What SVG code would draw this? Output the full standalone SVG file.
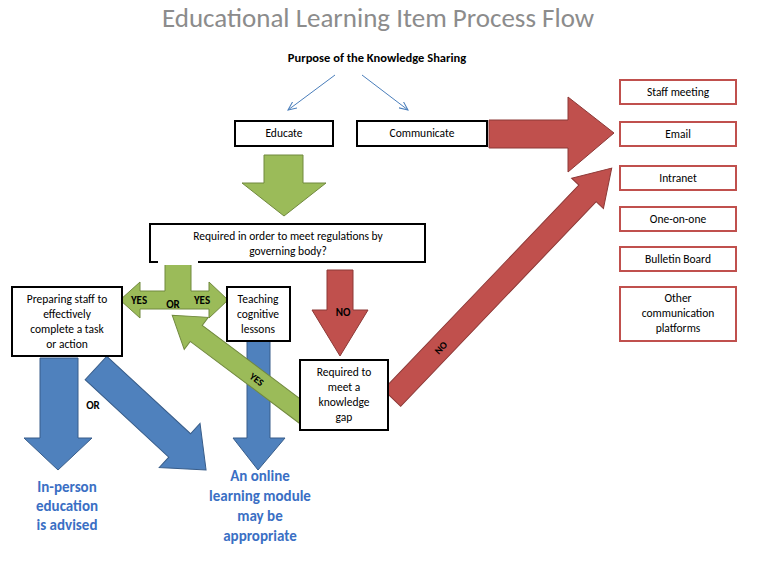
<svg xmlns="http://www.w3.org/2000/svg" width="768" height="576" viewBox="0 0 768 576">
<defs>
<marker id="ah" markerWidth="10" markerHeight="8" refX="9" refY="4" orient="auto" markerUnits="userSpaceOnUse"><path d="M0,0 L9,4 L0,8" fill="none" stroke="#4a7ebb" stroke-width="1"/></marker>
</defs>
<style>
text{font-family:Calibri,"Liberation Sans",Arial,sans-serif;}
.bx{fill:#fff;stroke:#000;stroke-width:2}
.rb{fill:#fff;stroke:#c0504d;stroke-width:2}
.t{font-size:11.5px;text-anchor:middle;fill:#000}
.g{fill:#9bbb59;stroke:#71893f;stroke-width:1}
.r{fill:#c0504d;stroke:#8c3836;stroke-width:1}
.b{fill:#4f81bd;stroke:#385d8a;stroke-width:1}
.lb{font-size:11px;font-weight:bold;text-anchor:middle;fill:#000}
.bl{font-size:15px;font-weight:bold;text-anchor:middle;fill:#3a6fc4}
</style>
<rect width="768" height="576" fill="#fff"/>
<text x="378" y="27" font-size="27" text-anchor="middle" fill="#8c8c8c">Educational Learning Item Process Flow</text>
<text x="377" y="62" font-size="12.5" font-weight="bold" text-anchor="middle">Purpose of the Knowledge Sharing</text>
<g id="connectors">
<line x1="335" y1="75" x2="288" y2="110" stroke="#4a7ebb" marker-end="url(#ah)"/>
<line x1="362" y1="75" x2="408" y2="110" stroke="#4a7ebb" marker-end="url(#ah)"/>
<polygon class="r" points="489,120 568,120 568,97 614,133 568,172 568,148 489,148"/>
<polygon class="g" points="264,155 303,155 303,183 326,183 284,216 242,183 264,183"/>
<polygon class="g" points="165,262 191,262 191,291 209,291 209,282 228,300 209,318 209,309 140,309 140,318 120,300 140,282 140,291 165,291"/>
<polygon class="r" points="327,270 353,270 353,310 368,310 340,356 312,310 327,310"/>
<g transform="translate(392,398) rotate(-46.3)"><polygon class="r" points="0,-12 283,-12 283,-22 318,0 283,22 283,12 0,12"/>
<text x="70" y="4" font-size="10" font-weight="bold" text-anchor="middle">NO</text></g>
<polygon class="b" points="40,358 78,358 78,438 92,438 58,470 24,438 40,438"/>
<g transform="translate(96,368) rotate(42.8)"><polygon class="b" points="0,-16 114,-16 114,-30 150,0 114,30 114,16 0,16"/></g>
<polygon class="b" points="247,341 270,341 270,438 285,438 258,470 233,438 247,438"/>
<g transform="translate(305,415) rotate(216.9)"><polygon class="g" points="0,-10 136,-10 136,-20 166,0 136,20 136,10 0,10"/>
<text x="60" y="4" font-size="10" font-weight="bold" text-anchor="middle" transform="rotate(180 60 0)">YES</text></g>
<text x="139" y="304" class="lb">YES</text>
<text x="173" y="308" class="lb">OR</text>
<text x="202" y="304" class="lb">YES</text>
<text x="343" y="316" class="lb">NO</text>
<text x="93" y="409" class="lb">OR</text>
</g>
<g id="educate"><rect class="bx" x="235" y="121" width="98" height="25"/><text class="t" x="284" y="137">Educate</text></g>
<g id="communicate"><rect class="bx" x="357" y="121" width="130" height="25"/><text class="t" x="422" y="137">Communicate</text></g>
<g id="reg"><rect class="bx" x="150" y="224" width="275" height="38"/><text class="t" x="288" y="240">Required in order to meet regulations by</text><text class="t" x="288" y="255">governing body?</text></g>
<rect x="158" y="261" width="40" height="4" fill="#fff"/>
<g id="prep"><rect class="bx" x="12" y="287" width="110" height="69"/><text class="t" x="67" y="303">Preparing staff to</text><text class="t" x="67" y="318">effectively</text><text class="t" x="67" y="333">complete a task</text><text class="t" x="67" y="348">or action</text></g>
<g id="teach"><rect class="bx" x="227" y="287" width="63" height="54"/><text class="t" x="258" y="303">Teaching</text><text class="t" x="258" y="318">cognitive</text><text class="t" x="258" y="333">lessons</text></g>
<g id="gap"><rect class="bx" x="300" y="360" width="88" height="70"/><text class="t" x="344" y="376">Required to</text><text class="t" x="344" y="391">meet a</text><text class="t" x="344" y="406">knowledge</text><text class="t" x="344" y="421">gap</text></g>
<g id="staff"><rect class="rb" x="620" y="80" width="116" height="24"/><text class="t" x="678" y="96">Staff meeting</text></g>
<g id="email"><rect class="rb" x="620" y="122" width="116" height="24"/><text class="t" x="678" y="138">Email</text></g>
<g id="intranet"><rect class="rb" x="620" y="166" width="116" height="24"/><text class="t" x="678" y="182">Intranet</text></g>
<g id="oneonone"><rect class="rb" x="620" y="207" width="116" height="24"/><text class="t" x="678" y="223">One-on-one</text></g>
<g id="bulletin"><rect class="rb" x="620" y="247" width="116" height="24"/><text class="t" x="678" y="263">Bulletin Board</text></g>
<g id="other"><rect class="rb" x="620" y="287" width="116" height="54"/><text class="t" x="678" y="302">Other</text><text class="t" x="678" y="317">communication</text><text class="t" x="678" y="332">platforms</text></g>
<g id="inperson"><text class="bl" x="67" y="492">In-person</text><text class="bl" x="67" y="511">education</text><text class="bl" x="67" y="530">is advised</text></g>
<g id="online"><text class="bl" x="260" y="481" font-size="16">An online</text><text class="bl" x="260" y="501" font-size="16">learning module</text><text class="bl" x="260" y="521" font-size="16">may be</text><text class="bl" x="260" y="541" font-size="16">appropriate</text></g>
</svg>
